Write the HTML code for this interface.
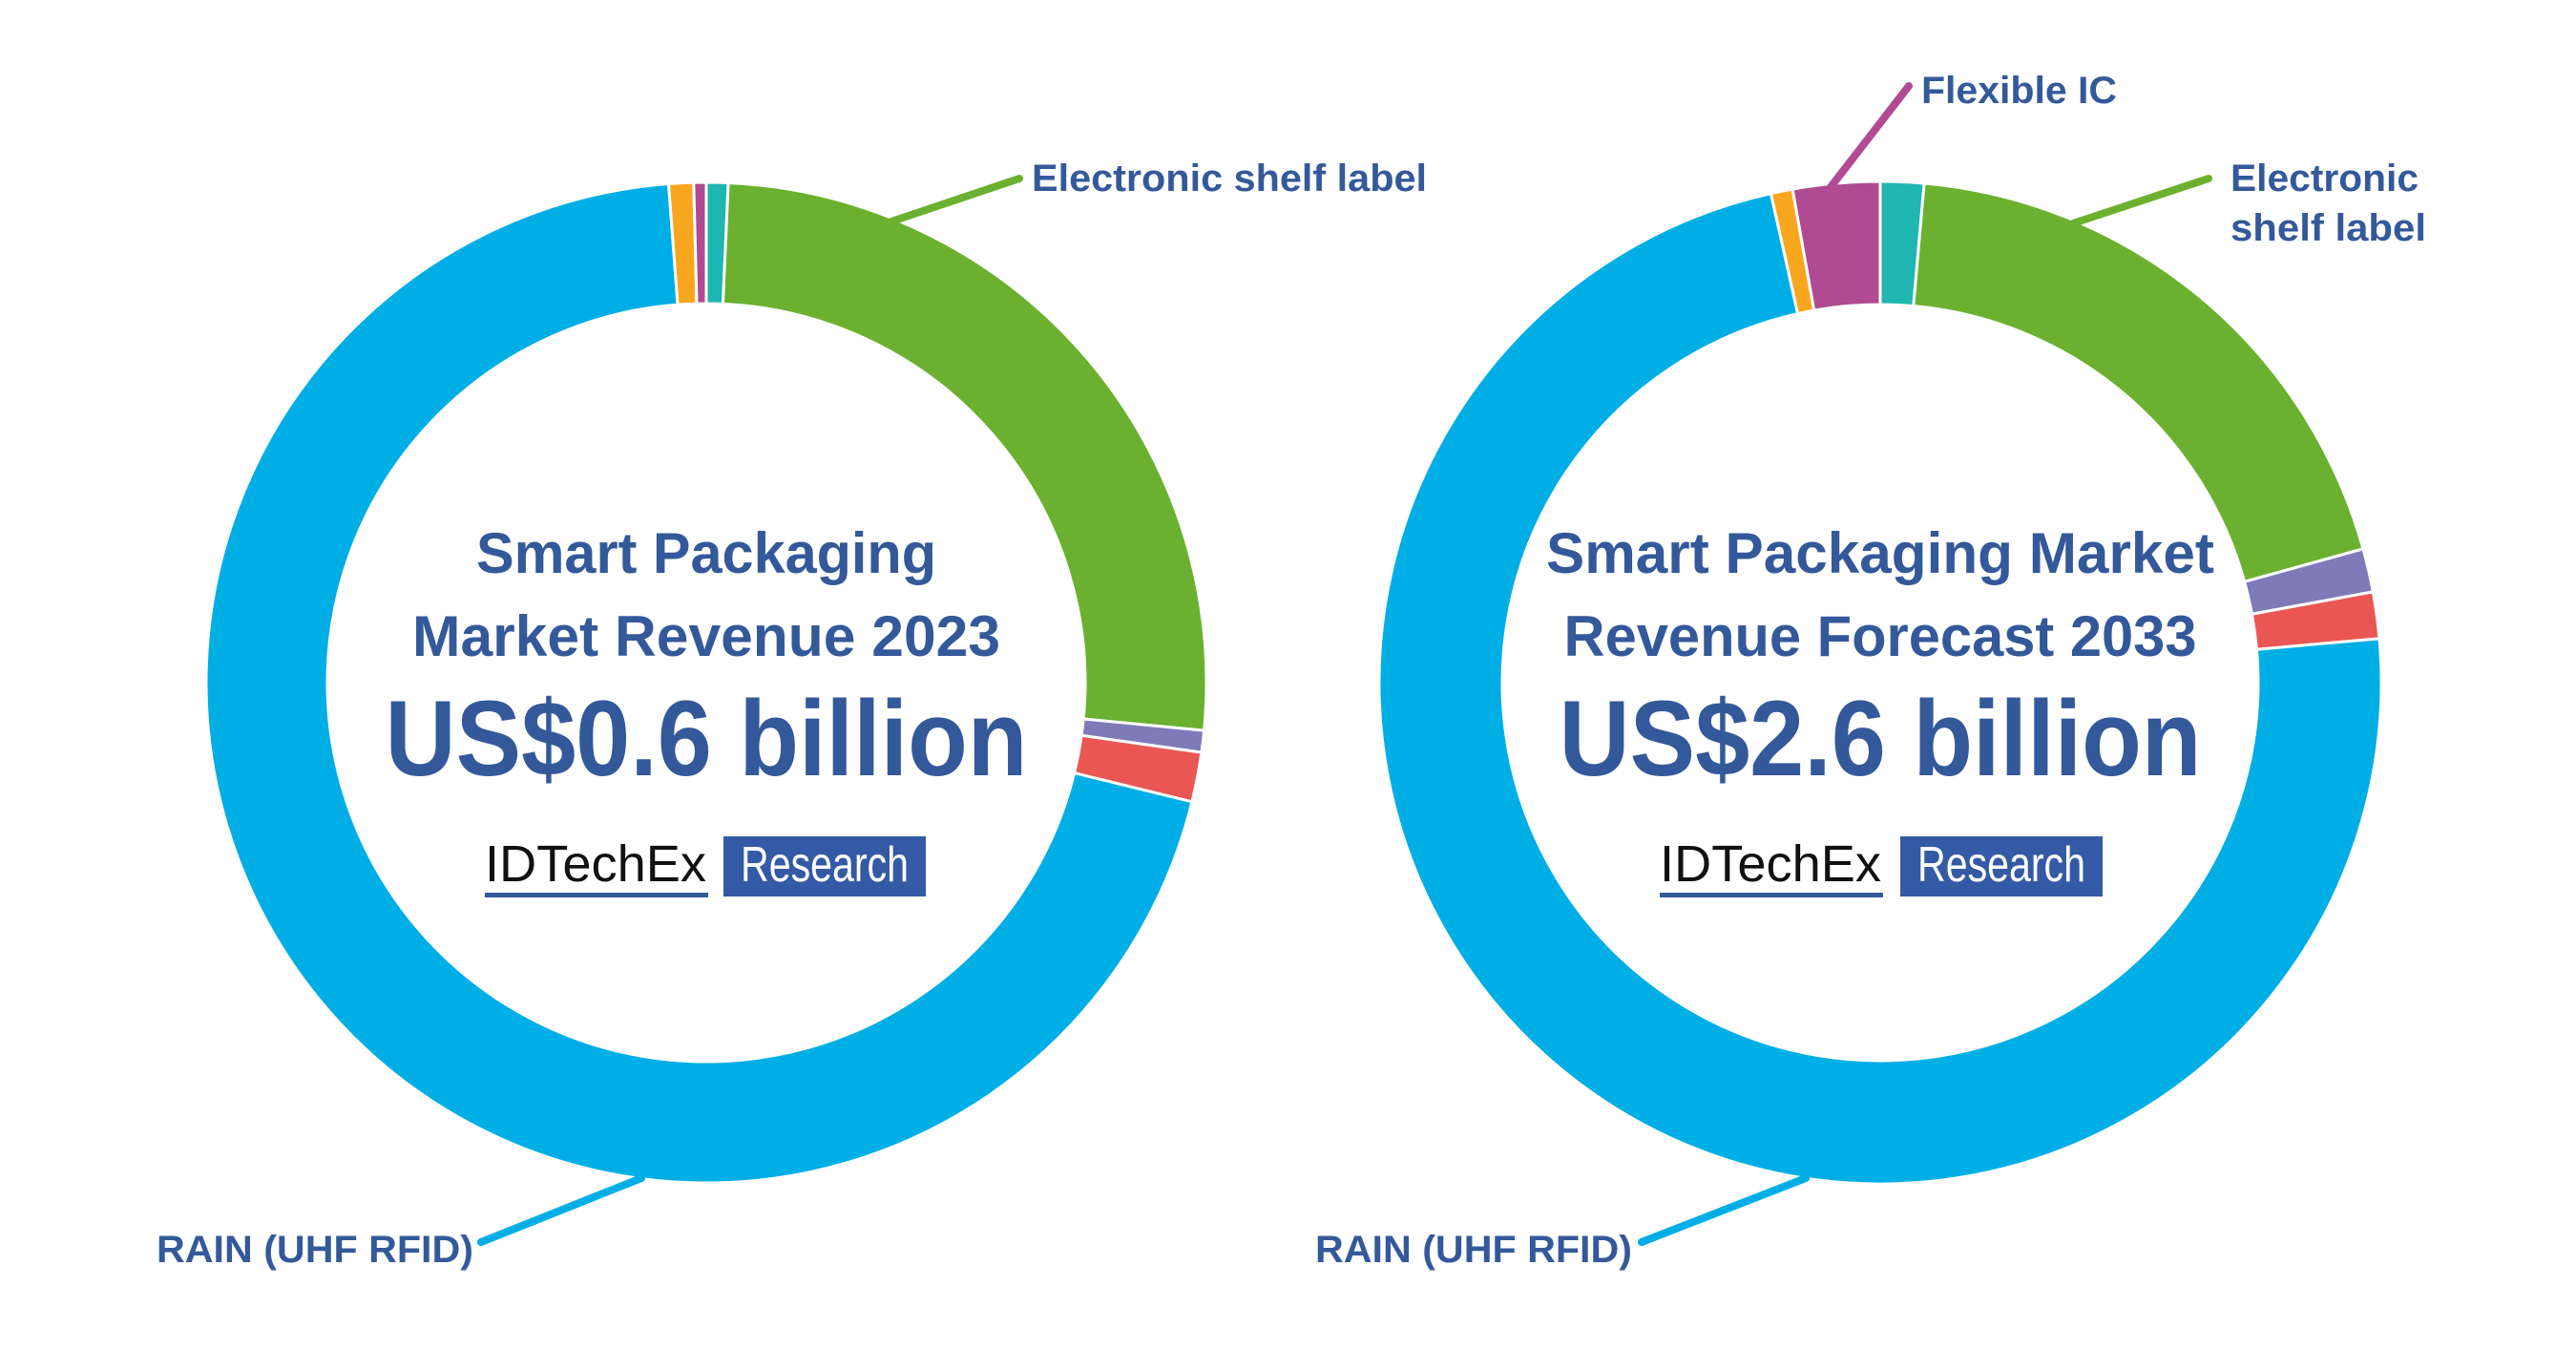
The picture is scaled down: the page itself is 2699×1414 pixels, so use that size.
<!DOCTYPE html>
<html><head><meta charset="utf-8"><style>
html,body{margin:0;padding:0;background:#fff;}
svg{display:block;}
text{font-family:"Liberation Sans",Arial,sans-serif;}
</style></head><body>
<svg id="chart" width="2699" height="1414" viewBox="0 0 2699 1414" xmlns="http://www.w3.org/2000/svg">
<g id="donut2023"></g>
<g id="donut2033"></g>

<g fill="none" stroke-width="8" stroke-linecap="round">
<polyline points="1068,187 934,232" stroke="#6bb12f"/>
<polyline points="504,1301 672,1234" stroke="#00aee6"/>
<polyline points="2000,90 1918,196" stroke="#b04a93"/>
<polyline points="2314,187 2172,234" stroke="#6bb12f"/>
<polyline points="1720,1301 1892,1234" stroke="#00aee6"/>
</g>

<g fill="#34599a" font-size="40" font-weight="bold">
<text x="1081" y="200" textLength="414" lengthAdjust="spacingAndGlyphs">Electronic shelf label</text>
<text x="164" y="1322" textLength="332" lengthAdjust="spacingAndGlyphs">RAIN (UHF RFID)</text>
<text x="2013" y="108" textLength="205" lengthAdjust="spacingAndGlyphs">Flexible IC</text>
<text x="2337" y="200" textLength="197" lengthAdjust="spacingAndGlyphs">Electronic</text>
<text x="2337" y="252" textLength="205" lengthAdjust="spacingAndGlyphs">shelf label</text>
<text x="1378" y="1322" textLength="332" lengthAdjust="spacingAndGlyphs">RAIN (UHF RFID)</text>
</g>

<g fill="#34599a" font-weight="bold" text-anchor="middle">
<text x="740" y="600" font-size="60" textLength="482" lengthAdjust="spacingAndGlyphs">Smart Packaging</text>
<text x="740" y="687" font-size="60" textLength="616" lengthAdjust="spacingAndGlyphs">Market Revenue 2023</text>
<text x="740" y="812" font-size="112" textLength="673" lengthAdjust="spacingAndGlyphs">US$0.6 billion</text>
<text x="1970" y="600" font-size="60" textLength="700" lengthAdjust="spacingAndGlyphs">Smart Packaging Market</text>
<text x="1970" y="687" font-size="60" textLength="663" lengthAdjust="spacingAndGlyphs">Revenue Forecast 2033</text>
<text x="1970" y="812" font-size="112" textLength="673" lengthAdjust="spacingAndGlyphs">US$2.6 billion</text>
</g>

<g>
<text x="508" y="923" font-size="54" fill="#111" textLength="232" lengthAdjust="spacingAndGlyphs">IDTechEx</text>
<rect x="508" y="935" width="234" height="5" fill="#34599a"/>
<rect x="758" y="876" width="212" height="63" fill="#345aa5"/>
<text x="776" y="923" font-size="52" fill="#fff" textLength="176" lengthAdjust="spacingAndGlyphs">Research</text>
</g>
<g>
<text x="1739" y="923" font-size="54" fill="#111" textLength="232" lengthAdjust="spacingAndGlyphs">IDTechEx</text>
<rect x="1739" y="935" width="234" height="5" fill="#34599a"/>
<rect x="1991" y="876" width="212" height="63" fill="#345aa5"/>
<text x="2009" y="923" font-size="52" fill="#fff" textLength="176" lengthAdjust="spacingAndGlyphs">Research</text>
</g>
</svg>
<script>
const categories = ["Other (teal)", "Electronic shelf label", "Other (purple)", "Other (red)", "RAIN (UHF RFID)", "Other (orange)", "Flexible IC"];
const colors = ["#1fb5b0", "#6bb12f", "#7f7bb9", "#e95654", "#00aee6", "#f9a61f", "#b04a93"];
const values2023 = [0.7, 25.8, 0.7, 1.6, 69.9, 0.8, 0.4];
const values2033 = [1.4, 19.3, 1.4, 1.5, 72.9, 0.7, 2.8];

function polar(cx, cy, r, frac) {
  const a = frac * 2 * Math.PI;
  return [cx + r * Math.sin(a), cy - r * Math.cos(a)];
}
function drawDonut(gid, vals, cx, cy, ro, ri) {
  const g = document.getElementById(gid);
  const total = vals.reduce((s, v) => s + v, 0);
  let acc = 0;
  vals.forEach((v, i) => {
    const f0 = acc / total, f1 = (acc + v) / total;
    acc += v;
    const large = (f1 - f0) > 0.5 ? 1 : 0;
    const [x0, y0] = polar(cx, cy, ro, f0), [x1, y1] = polar(cx, cy, ro, f1);
    const [x2, y2] = polar(cx, cy, ri, f1), [x3, y3] = polar(cx, cy, ri, f0);
    const p = document.createElementNS("http://www.w3.org/2000/svg", "path");
    p.setAttribute("d", `M${x0},${y0} A${ro},${ro} 0 ${large} 1 ${x1},${y1} L${x2},${y2} A${ri},${ri} 0 ${large} 0 ${x3},${y3} Z`);
    p.setAttribute("fill", colors[i]);
    p.setAttribute("stroke", "#fff");
    p.setAttribute("stroke-width", "3");
    
    
    g.appendChild(p);
  });
}
drawDonut("donut2023", values2023, 740, 715, 524, 397);
drawDonut("donut2033", values2033, 1970, 715, 525, 396);
</script>
</body></html>
